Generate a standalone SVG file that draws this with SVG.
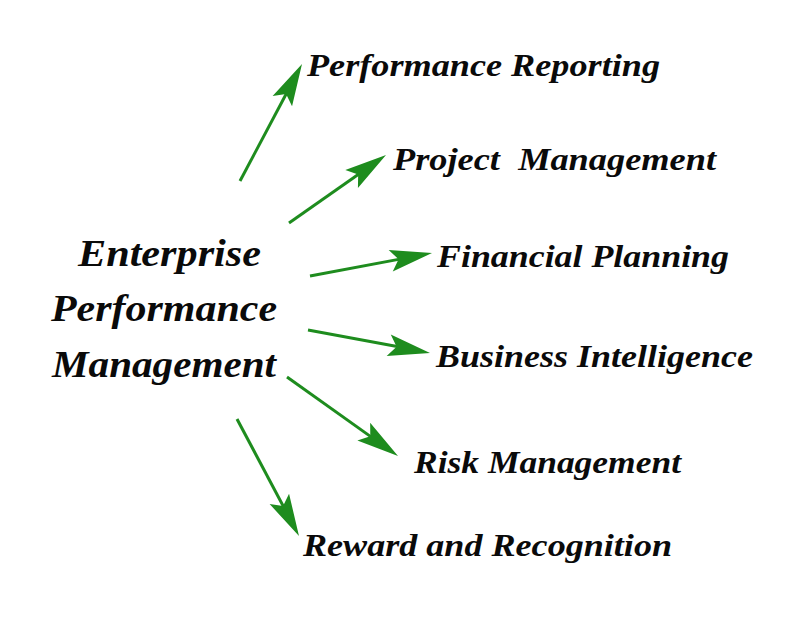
<svg xmlns="http://www.w3.org/2000/svg" xmlns:xlink="http://www.w3.org/1999/xlink" width="800" height="625" viewBox="0 0 800 625">
<defs>
<style>
.lbl{font-family:"Liberation Serif","Times New Roman",serif;font-style:italic;font-weight:bold;font-size:31px;fill:#0a0a0a}
.ctr{font-family:"Liberation Serif","Times New Roman",serif;font-style:italic;font-weight:bold;font-size:38px;fill:#0a0a0a}
.ln{stroke:#1e8c1e;stroke-width:3;fill:none}
.hd{fill:#1e8c1e}
</style>
<path id="ah" d="M0,0 L-42,-11 L-34,0 L-42,11 Z"/>
</defs>
<rect width="800" height="625" fill="#fff"/>
<g id="center">
<text class="ctr" x="78" y="266" textLength="183" lengthAdjust="spacingAndGlyphs">Enterprise</text>
<text class="ctr" x="51" y="321" textLength="226" lengthAdjust="spacingAndGlyphs">Performance</text>
<text class="ctr" x="52" y="377" textLength="224" lengthAdjust="spacingAndGlyphs">Management</text>
</g>
<g id="connectors">
<line class="ln" x1="240" y1="181" x2="288.0" y2="90.5"/>
<use class="hd" xlink:href="#ah" href="#ah" transform="translate(302,64) rotate(-62.08)"/>
<line class="ln" x1="289" y1="223" x2="361.4" y2="172.2"/>
<use class="hd" xlink:href="#ah" href="#ah" transform="translate(386,155) rotate(-35.03)"/>
<line class="ln" x1="310" y1="276" x2="402.5" y2="258.6"/>
<use class="hd" xlink:href="#ah" href="#ah" transform="translate(432,253) rotate(-10.68)"/>
<line class="ln" x1="308" y1="330" x2="402.5" y2="347.4"/>
<use class="hd" xlink:href="#ah" href="#ah" transform="translate(430,353) rotate(10.68)"/>
<line class="ln" x1="287" y1="377" x2="373.5" y2="438.6"/>
<use class="hd" xlink:href="#ah" href="#ah" transform="translate(398,456) rotate(35.44)"/>
<line class="ln" x1="237" y1="419" x2="285.0" y2="509.5"/>
<use class="hd" xlink:href="#ah" href="#ah" transform="translate(299,536) rotate(62.08)"/>
</g>
<g id="n1"><text class="lbl" x="307" y="76" textLength="353" lengthAdjust="spacingAndGlyphs">Performance Reporting</text></g>
<g id="n2"><text class="lbl" x="393" y="170" textLength="323" lengthAdjust="spacingAndGlyphs" xml:space="preserve">Project  Management</text></g>
<g id="n3"><text class="lbl" x="437" y="267" textLength="292" lengthAdjust="spacingAndGlyphs">Financial Planning</text></g>
<g id="n4"><text class="lbl" x="436" y="367" textLength="317" lengthAdjust="spacingAndGlyphs">Business Intelligence</text></g>
<g id="n5"><text class="lbl" x="414" y="473" textLength="267" lengthAdjust="spacingAndGlyphs">Risk Management</text></g>
<g id="n6"><text class="lbl" x="303" y="556" textLength="369" lengthAdjust="spacingAndGlyphs">Reward and Recognition</text></g>
</svg>
